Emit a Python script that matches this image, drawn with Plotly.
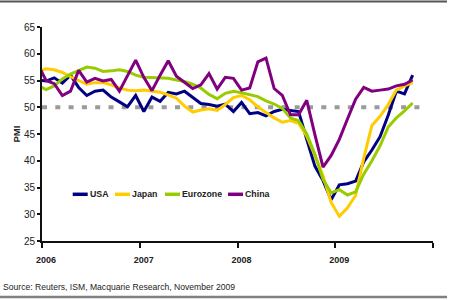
import plotly.graph_objects as go

# ---- data (Dec 2005 .. Oct 2009, monthly) ----
months = ([("2005-12")] +
          [f"{y}-{m:02d}" for y in (2006, 2007, 2008) for m in range(1, 13)] +
          [f"2009-{m:02d}" for m in range(1, 11)])

usa = [55.1,
       54.9, 55.5, 54.5, 56.0, 53.7, 52.2, 53.0, 53.2, 51.9, 51.0, 50.1, 52.2,
       49.2, 51.9, 51.1, 52.8, 52.5, 53.0, 51.8, 50.7, 50.5, 50.2, 50.6, 49.2,
       50.9, 48.8, 49.0, 48.4, 49.2, 49.6, 49.4, 49.2, 44.0, 39.0, 36.3, 32.7,
       35.5, 35.7, 36.2, 39.8, 42.0, 44.5, 48.5, 53.0, 52.5, 56.0]
japan = [56.7,
         57.2, 57.0, 56.5, 55.7, 55.0, 54.3, 54.6, 54.6, 54.2, 53.6, 53.2, 53.1,
         53.2, 53.0, 52.8, 52.3, 51.7, 50.2, 49.1, 49.5, 49.7, 49.4, 50.5, 51.8,
         52.2, 51.4, 50.1, 49.0, 48.0, 47.2, 47.5, 47.0, 44.6, 41.0, 37.2, 32.2,
         29.6, 31.2, 33.5, 40.5, 46.6, 48.3, 50.5, 53.2, 54.0, 54.6]
eurozone = [54.1,
            53.3, 54.0, 55.3, 56.2, 56.8, 57.5, 57.3, 56.7, 56.8, 57.0, 56.7, 56.0,
            55.6, 55.5, 55.4, 55.4, 55.1, 54.8, 54.3, 53.6, 52.4, 51.6, 52.6, 53.0,
            52.7, 52.3, 52.0, 51.2, 50.6, 49.8, 48.0, 47.5, 45.0, 41.2, 36.5, 34.0,
            34.6, 33.6, 34.2, 37.5, 40.0, 42.8, 46.3, 48.0, 49.3, 50.8]
china = [58.0,
         55.0, 54.4, 52.2, 53.0, 56.9, 54.7, 55.4, 54.9, 55.2, 53.0, 56.0, 58.8,
         55.6, 53.1, 56.0, 58.7, 55.8, 54.7, 53.5, 54.2, 56.3, 53.4, 55.6, 55.4,
         53.2, 53.6, 58.5, 59.2, 53.5, 52.2, 48.6, 48.6, 51.3, 44.9, 38.8, 41.0,
         44.0, 47.8, 51.5, 53.7, 53.0, 53.2, 53.4, 54.0, 54.3, 55.1]
threshold = 50
year_labels = ["2006", "2007", "2008", "2009"]
series_names = ["USA", "Japan", "Eurozone", "China"]
colors = ["#000080", "#FFCC00", "#99CC00", "#800080"]

# month index: 0 = Jan 2006
idx = [(int(s[:4]) - 2006) * 12 + int(s[5:]) - 1 for s in months]

FONT = "Liberation Sans, Arial, sans-serif"
TXT = "#222222"

fig = go.Figure()
for name, vals, col in zip(series_names, [usa, japan, eurozone, china], colors):
    fig.add_trace(go.Scatter(x=idx, y=vals, mode="lines", name=name,
                             line=dict(color=col, width=3), showlegend=False))

# 50 reference line
fig.add_shape(type="line", xref="x", yref="y", x0=-0.5, x1=46.3,
              y0=threshold, y1=threshold,
              line=dict(color="#9a9a9a", width=4, dash="5px,8.3px"), layer="below")

W, H = 450, 300
L, R, T, B = 42, 17, 27, 59
pw, ph = W - L - R, H - T - B


def px(x):
    return (x - L) / pw


def py(y):
    return (H - B - y) / ph


# manual legend
leg_y = py(194.3)
leg_x = [72.7, 115, 165, 228]
for name, col, x0 in zip(series_names, colors, leg_x):
    fig.add_shape(type="line", xref="paper", yref="paper",
                  x0=px(x0), x1=px(x0 + 15), y0=leg_y, y1=leg_y,
                  line=dict(color=col, width=3.5))
    fig.add_annotation(xref="paper", yref="paper", x=px(x0 + 15), y=leg_y,
                       xanchor="left", yanchor="middle", text=name, showarrow=False,
                       font=dict(family=FONT, size=8.8, color=TXT, weight="bold"))

# frame lines
fig.add_shape(type="line", xref="paper", yref="paper", x0=px(0), x1=px(447),
              y0=py(1.5), y1=py(1.5), line=dict(color="#555555", width=2))
fig.add_shape(type="line", xref="paper", yref="paper", x0=px(0), x1=px(447),
              y0=py(297), y1=py(297), line=dict(color="#808080", width=2.5))

fig.add_annotation(xref="paper", yref="paper", x=px(1), y=py(286.7),
                   xanchor="left", yanchor="middle", showarrow=False,
                   text="Source: Reuters, ISM, Macquarie Research, November 2009",
                   font=dict(family=FONT, size=8.6, color=TXT))
fig.add_annotation(xref="paper", yref="paper", x=px(16), y=py(133.5),
                   xanchor="center", yanchor="middle", showarrow=False, textangle=-90,
                   text="PMI", font=dict(family=FONT, size=9.5, color=TXT, weight="bold"))

fig.update_layout(
    width=W, height=H, autosize=False,
    margin=dict(l=L, r=R, t=T, b=B, pad=0),
    paper_bgcolor="white", plot_bgcolor="white",
    xaxis=dict(range=[-0.5, 47.5], tickmode="array", tickvals=[0, 12, 24, 36],
               ticktext=year_labels, ticks="", showline=True, linecolor="#111111",
               linewidth=2, showgrid=False, zeroline=False, ticklabelstandoff=9,
               tickfont=dict(family=FONT, size=9, color=TXT, weight="bold"),
               minor=dict(tickmode="array", tickvals=[-0.5, 11.5, 23.5, 35.5, 47.5],
                          ticks="outside", ticklen=5, tickwidth=1.5,
                          tickcolor="#111111", showgrid=False)),
    yaxis=dict(range=[25, 65], dtick=5, tick0=25, ticks="outside", ticklen=3,
               tickwidth=1.5, tickcolor="#111111", showline=True,
               linecolor="#111111", linewidth=2, showgrid=False, zeroline=False,
               tickfont=dict(family=FONT, size=10, color=TXT)),
)

fig.write_html("out.html")
